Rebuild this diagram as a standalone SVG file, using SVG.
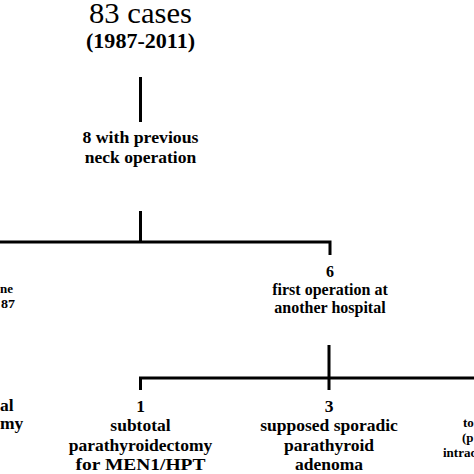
<svg xmlns="http://www.w3.org/2000/svg" width="474" height="474" viewBox="0 0 474 474">
<style>
text{fill:#000;text-anchor:middle}
.b{font-weight:bold}
.l{font-size:17.5px}
.m{font-size:16px}
.s{font-size:13px}
.c line,.c path{stroke:#000;stroke-width:3;fill:none}
</style>
<rect width="474" height="474" fill="#fff"/>
<g class="c" id="connectors">
<line x1="140.5" y1="77" x2="140.5" y2="122"/>
<path d="M140.5 211V242M0 242H330V255"/>
<path d="M329 345V390M140.5 390V378H474"/>
</g>
<g font-family="'Liberation Serif', 'Times New Roman', serif">
<g id="root">
<text x="140.5" y="23" style="font-size:30px" textLength="103" lengthAdjust="spacingAndGlyphs">83 cases</text>
<text x="140.5" y="48" class="b" style="font-size:21px" textLength="109" lengthAdjust="spacingAndGlyphs">(1987-2011)</text>
</g>
<g id="prev">
<text x="140.5" y="143" class="b l" textLength="116" lengthAdjust="spacingAndGlyphs">8 with previous</text>
<text x="140.5" y="163" class="b l">neck operation</text>
</g>
<g id="leftmid">
<text x="0" y="293" class="b s" style="text-anchor:start">ne</text>
<text x="1" y="308" class="b s" style="text-anchor:start" textLength="14" lengthAdjust="spacingAndGlyphs">87</text>
</g>
<g id="other">
<text x="330" y="277" class="b m">6</text>
<text x="330" y="295" class="b m">first operation at</text>
<text x="330" y="313" class="b m">another hospital</text>
</g>
<g id="leftlow">
<text x="0" y="411" class="b l" style="text-anchor:start">al</text>
<text x="0" y="429" class="b l" style="text-anchor:start">my</text>
</g>
<g id="sub">
<text x="140.5" y="412" class="b l">1</text>
<text x="140.5" y="431" class="b l">subtotal</text>
<text x="140.5" y="451" class="b l">parathyroidectomy</text>
<text x="140.5" y="470" class="b l" textLength="130" lengthAdjust="spacingAndGlyphs">for MEN1/HPT</text>
</g>
<g id="spor">
<text x="329" y="412" class="b l">3</text>
<text x="329" y="431" class="b l">supposed sporadic</text>
<text x="329" y="451" class="b l">parathyroid</text>
<text x="329" y="470" class="b l">adenoma</text>
</g>
<g id="right">
<text x="463" y="427" class="b s" style="text-anchor:start">to</text>
<text x="462" y="442" class="b s" style="text-anchor:start">(p</text>
<text x="443" y="457" class="b s" style="text-anchor:start">intrac</text>
</g>
</g>
</svg>
